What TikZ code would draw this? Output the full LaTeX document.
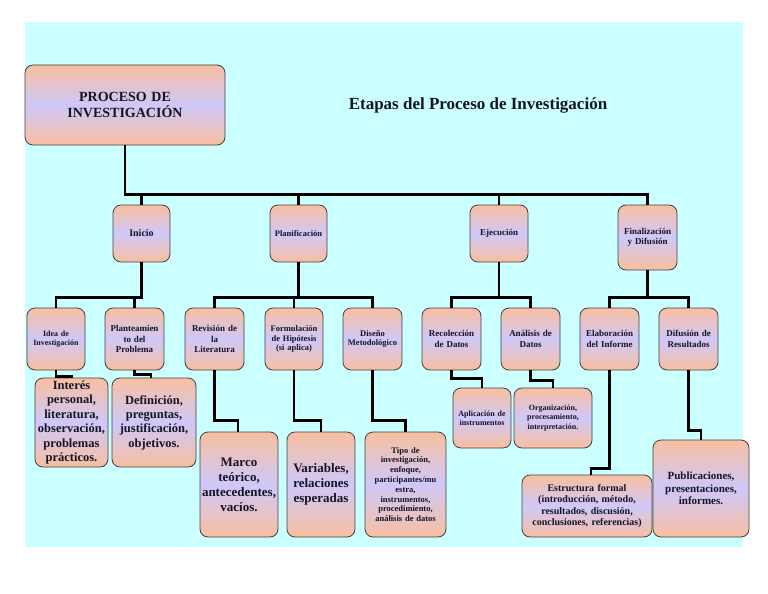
\documentclass[tikz,border=0pt]{standalone}
\usepackage{fontspec}
\setmainfont{Liberation Serif}
\begin{document}
\definecolor{bg}{HTML}{CCFFFF}
\definecolor{peach}{HTML}{F8BFA0}
\definecolor{lav}{HTML}{CFC8F8}
\definecolor{ink}{HTML}{141428}
\begin{tikzpicture}[x=1pt,y=-1pt,
  box/.style={draw=black!75,line width=0.8pt,rounded corners=8pt,top color=peach,bottom color=peach,middle color=lav,
    text=ink,align=center,inner sep=1pt},
  ln/.style={line width=2.8pt,black}]
\useasboundingbox (0,0) rectangle (768,594);
\fill[bg] (25,22) rectangle (743,547);
\newcommand{\bx}[7]{%
  \pgfmathsetmacro\bxw{#4-#2}\pgfmathsetmacro\bxh{#5-#3}\pgfmathsetmacro\bxt{#4-#2-4}%
  \pgfmathsetmacro\bxx{(#2+#4)/2}\pgfmathsetmacro\bxy{(#3+#5)/2}%
  \node[box,minimum width=\bxw pt,minimum height=\bxh pt,text width=\bxt pt,font=\bfseries\fontsize{#6}{\dimexpr #6pt*115/100\relax}\selectfont] (#1) at (\bxx,\bxy) {#7};}
\bx{main}{25}{65}{225}{145}{14}{PROCESO DE\\INVESTIGACIÓN}
\node[text=ink,font=\bfseries\fontsize{17}{20}\selectfont] (title) at (478,105) {Etapas del Proceso de Investigación};
\bx{ini}{113}{205}{170}{262}{10}{Inicio}
\bx{pla}{270}{205}{327}{262}{8.5}{Planificación}
\bx{eje}{470}{205}{528}{262}{9}{Ejecución}
\bx{fin}{618}{205}{677}{270}{9}{Finalización\\y Difusión}
\bx{idea}{27}{308}{85}{370}{8}{Idea de\\Investigación}
\bx{plt}{105}{308}{164}{370}{9}{Planteamien\\to del\\Problema}
\bx{rev}{185}{308}{244}{370}{9}{Revisión de\\la\\Literatura}
\bx{for}{265}{308}{323}{370}{8.5}{Formulación\\de Hipótesis\\(si aplica)}
\bx{dis}{343}{308}{402}{370}{8.5}{Diseño\\Metodológico}
\bx{rec}{422}{308}{481}{370}{9}{Recolección\\de Datos}
\bx{ana}{501}{308}{560}{370}{9}{Análisis de\\Datos}
\bx{ela}{580}{308}{639}{370}{9}{Elaboración\\del Informe}
\bx{dif}{659}{308}{718}{370}{9}{Difusión de\\Resultados}
\bx{int}{35}{378}{108}{467}{12.5}{Interés\\personal,\\literatura,\\observación,\\problemas\\prácticos.}
\bx{def}{112}{378}{196}{467}{12.5}{Definición,\\preguntas,\\justificación,\\objetivos.}
\bx{mar}{200}{432}{278}{537}{13}{Marco\\teórico,\\antecedentes,\\vacíos.}
\bx{var}{287}{432}{355}{537}{13}{Variables,\\relaciones\\esperadas}
\bx{tip}{365}{432}{446}{537}{8.5}{Tipo de\\investigación,\\enfoque,\\participantes/mu\\estra,\\instrumentos,\\procedimiento,\\análisis de datos}
\bx{apl}{453}{388}{511}{448}{8}{Aplicación de\\instrumentos}
\bx{org}{514}{388}{592}{448}{8}{Organización,\\procesamiento,\\interpretación.}
\bx{est}{522}{475}{652}{537}{10}{Estructura formal\\(introducción, método,\\resultados, discusión,\\conclusiones, referencias)}
\bx{pub}{653}{440}{749}{537}{11}{Publicaciones,\\presentaciones,\\informes.}
% top level
\draw[ln] (main.south) |- ([yshift=10pt]fin.north) -- (fin.north);
\foreach \n in {ini,pla,eje} \draw[ln] ([yshift=10pt]\n.north) -- (\n.north);
% level 2 buses
\draw[ln] (ini.south) |- ([yshift=10pt]idea.north) -- (idea.north);
\draw[ln] ([yshift=10pt]plt.north) -- (plt.north);
\draw[ln] (rev.north) -- ([yshift=10pt]rev.north) -| (dis.north);
\draw[ln] (pla.south) -- ([yshift=10pt]for.north -| pla.south);
\draw[ln] ([yshift=10pt]for.north) -- (for.north);
\draw[ln] (eje.south) |- ([yshift=10pt]rec.north) -- (rec.north);
\draw[ln] ([yshift=10pt]rec.north) -| (ana.north);
\draw[ln] (fin.south) |- ([yshift=10pt]ela.north) -- (ela.north);
\draw[ln] ([yshift=10pt]ela.north) -| (dif.north);
% level 3
\draw[ln] (idea.south) -- ++(0,6) -| (int.north);
\draw[ln] (plt.south) -- ++(0,4) -| ([xshift=-3pt]def.north);
\draw[ln] (rev.south) -- ++(0,50) -| ([xshift=-1pt]mar.north);
\draw[ln] (for.south) -- ++(0,50) -| (var.north);
\draw[ln] (dis.south) -- ++(0,50) -| (tip.north);
\draw[ln] (rec.south) -- ++(0,8) -| (apl.north);
\draw[ln] (ana.south) -- ++(0,10) -| (org.north);
\draw[ln] (ela.south) -- ++(0,98) -| ([xshift=4pt]est.north);
\draw[ln] (dif.south) -- ++(0,60) -| (pub.north);
\end{tikzpicture}
\end{document}
